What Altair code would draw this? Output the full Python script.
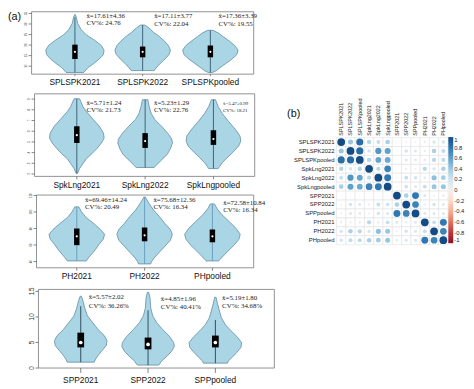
import json
import altair as alt
import pandas as pd

# ---------------- data ----------------
# Panel 1: spikelets per spike
P1_NAMES = ["SPLSPK2021", "SPLSPK2022", "SPLSPKpooled"]
P1_Y = [
    [34.6, 33.3, 30.3, 27.4, 24.8, 22.3, 19.8, 17.6, 15.5, 13.4, 11.3, 9.2, 7.0],
    [29.5, 28.2, 26.1, 24.0, 21.9, 19.8, 17.6, 15.5, 13.4, 11.3, 9.2, 7.9],
    [27.0, 25.7, 24.0, 21.9, 19.8, 17.6, 15.5, 13.4, 11.3, 9.2, 7.9, 7.0],
]
P1_W = [
    [0.0, 0.02, 0.04, 0.09, 0.17, 0.29, 0.39, 0.43, 0.42, 0.36, 0.28, 0.19, 0.13],
    [0.03, 0.09, 0.16, 0.25, 0.32, 0.38, 0.41, 0.39, 0.33, 0.26, 0.20, 0.17],
    [0.04, 0.12, 0.19, 0.28, 0.36, 0.41, 0.39, 0.32, 0.23, 0.14, 0.09, 0.03],
]
P1_Q1 = [13.4, 14.2, 14.2]
P1_Q3 = [20.2, 19.3, 19.8]
P1_MED = [16.8, 16.8, 16.8]
P1_LO = [7.0, 7.9, 7.0]
P1_HI = [33.3, 29.5, 27.0]
P1_MEAN = ["x\u0304=17.61\u00b14.36", "x\u0304=17.11\u00b13.77", "x\u0304=17.36\u00b13.39"]
P1_CV = ["CV%: 24.76", "CV%: 22.04", "CV%: 19.55"]
P1_YTICKS = [10, 15, 20, 25, 30, 35]

# Panel 2: spike length
P2_NAMES = ["SpkLng2021", "SpkLng2022", "SpkLngpooled"]
P2_Y = [
    [9.03, 8.75, 8.29, 7.83, 7.10, 6.46, 5.82, 5.36, 4.90, 4.35, 3.89, 3.43, 2.97, 2.51, 2.06],
    [8.94, 8.29, 7.65, 7.10, 6.46, 5.82, 5.27, 4.90, 4.35, 3.80, 3.25, 2.79, 2.61],
    [8.94, 8.29, 7.65, 6.92, 6.18, 5.54, 5.08, 4.62, 4.07, 3.52, 3.06, 2.70, 2.51],
]
P2_W = [
    [0.04, 0.06, 0.09, 0.14, 0.24, 0.33, 0.39, 0.40, 0.36, 0.29, 0.22, 0.14, 0.09, 0.04, 0.01],
    [0.04, 0.06, 0.09, 0.14, 0.24, 0.33, 0.39, 0.40, 0.37, 0.32, 0.23, 0.16, 0.13],
    [0.03, 0.07, 0.13, 0.22, 0.32, 0.39, 0.40, 0.37, 0.29, 0.20, 0.13, 0.09, 0.07],
]
P2_Q1 = [4.90, 4.44, 4.72]
P2_Q3 = [6.46, 5.82, 6.09]
P2_MED = [5.63, 5.08, 5.27]
P2_LO = [2.06, 2.61, 2.51]
P2_HI = [9.03, 8.94, 8.94]
P2_MEAN = ["x\u0304=5.71\u00b11.24", "x\u0304=5.23\u00b11.29", "x\u0304=5.47\u00b10.99"]
P2_CV = ["CV%: 21.73", "CV%: 22.76", "CV%: 18.21"]
P2_YTICKS = [2, 3, 4, 5, 6, 7, 8, 9]

# Panel 3: plant height
P3_NAMES = ["PH2021", "PH2022", "PHpooled"]
P3_Y = [
    [106.2, 100.2, 93.1, 86.0, 78.8, 72.9, 66.9, 61.0, 55.0, 49.0, 44.3, 40.7],
    [118.1, 111.0, 102.6, 94.3, 86.0, 78.8, 72.9, 65.7, 58.6, 51.4, 44.3, 39.5, 37.1],
    [109.8, 103.8, 96.7, 88.3, 80.0, 72.9, 66.9, 59.8, 52.6, 46.7, 43.1, 40.7],
]
P3_W = [
    [0.03, 0.07, 0.14, 0.25, 0.35, 0.41, 0.39, 0.33, 0.28, 0.22, 0.17, 0.14],
    [0.01, 0.06, 0.13, 0.22, 0.30, 0.38, 0.41, 0.38, 0.30, 0.22, 0.14, 0.10, 0.09],
    [0.03, 0.07, 0.14, 0.25, 0.35, 0.41, 0.39, 0.32, 0.23, 0.16, 0.12, 0.09],
]
P3_Q1 = [59.8, 64.5, 63.3]
P3_Q3 = [80.0, 81.2, 78.8]
P3_MED = [70.5, 71.7, 70.5]
P3_LO = [40.7, 37.1, 40.7]
P3_HI = [106.2, 118.1, 109.8]
P3_MEAN = ["x\u0304=69.46\u00b114.24", "x\u0304=75.68\u00b112.36", "x\u0304=72.58\u00b110.84"]
P3_CV = ["CV%: 20.49", "CV%: 16.34", "CV%: 16.34"]
P3_YTICKS = [40, 60, 80, 100, 120]

# Panel 4: spikes per plant
P4_NAMES = ["SPP2021", "SPP2022", "SPPpooled"]
P4_Y = [
    [14.04, 13.27, 11.73, 10.19, 8.85, 7.50, 6.35, 5.38, 4.42, 3.46, 2.50, 1.73, 1.15],
    [14.81, 13.65, 11.73, 10.19, 8.85, 7.50, 6.15, 5.00, 4.23, 3.27, 2.31, 1.35, 0.58],
    [13.85, 12.69, 11.15, 9.81, 8.46, 7.31, 6.15, 5.00, 4.04, 3.08, 2.12, 1.35, 0.96],
]
P4_W = [
    [0.01, 0.03, 0.06, 0.10, 0.18, 0.26, 0.35, 0.39, 0.38, 0.32, 0.26, 0.22, 0.20],
    [0.01, 0.03, 0.04, 0.07, 0.13, 0.22, 0.32, 0.38, 0.39, 0.35, 0.28, 0.20, 0.16],
    [0.01, 0.03, 0.06, 0.09, 0.15, 0.23, 0.32, 0.39, 0.38, 0.32, 0.25, 0.19, 0.18],
]
P4_Q1 = [4.04, 3.65, 4.04]
P4_Q3 = [6.92, 5.96, 6.35]
P4_MED = [5.0, 4.62, 5.0]
P4_LO = [1.15, 0.58, 0.96]
P4_HI = [12.1, 11.3, 9.4]
P4_MEAN = ["x\u0304=5.57\u00b12.02", "x\u0304=4.85\u00b11.96", "x\u0304=5.19\u00b11.80"]
P4_CV = ["CV%: 36.26%", "CV%: 40.41%", "CV%: 34.68%"]
P4_YTICKS = [0, 5, 10, 15]

# Correlation matrix (b)
CORR_NAMES = ["SPLSPK2021", "SPLSPK2022", "SPLSPKpooled", "SpkLng2021", "SpkLng2022",
              "SpkLngpooled", "SPP2021", "SPP2022", "SPPpooled", "PH2021", "PH2022", "PHpooled"]
R_SPLSPK2021 = [1.00, 0.42, 0.85, 0.32, 0.25, 0.36, 0.02, 0.05, 0.05, 0.08, 0.18, 0.20]
R_SPLSPK2022 = [0.42, 1.00, 0.86, 0.20, 0.65, 0.60, 0.02, 0.20, 0.15, 0.08, 0.35, 0.27]
R_SPLSPKPOOL = [0.85, 0.86, 1.00, 0.32, 0.58, 0.56, 0.03, 0.15, 0.12, 0.10, 0.30, 0.28]
R_SPKLNG2021 = [0.32, 0.20, 0.32, 1.00, 0.30, 0.75, 0.02, 0.08, 0.05, 0.30, 0.18, 0.35]
R_SPKLNG2022 = [0.25, 0.65, 0.58, 0.30, 1.00, 0.80, 0.03, 0.25, 0.20, 0.10, 0.45, 0.38]
R_SPKLNGPOOL = [0.36, 0.60, 0.56, 0.75, 0.80, 1.00, 0.03, 0.22, 0.15, 0.25, 0.42, 0.42]
R_SPP2021 = [0.02, 0.02, 0.03, 0.02, 0.03, 0.03, 1.00, 0.35, 0.80, 0.15, 0.05, 0.10]
R_SPP2022 = [0.05, 0.20, 0.15, 0.08, 0.25, 0.22, 0.35, 1.00, 0.75, 0.08, 0.20, 0.15]
R_SPPPOOL = [0.05, 0.15, 0.12, 0.05, 0.20, 0.15, 0.80, 0.75, 1.00, 0.15, 0.15, 0.15]
R_PH2021 = [0.08, 0.08, 0.10, 0.30, 0.10, 0.25, 0.15, 0.08, 0.15, 1.00, 0.25, 0.80]
R_PH2022 = [0.18, 0.35, 0.30, 0.18, 0.45, 0.42, 0.05, 0.20, 0.15, 0.25, 1.00, 0.75]
R_PHPOOL = [0.20, 0.27, 0.28, 0.35, 0.38, 0.42, 0.10, 0.15, 0.15, 0.80, 0.75, 1.00]
CORR_ROWS = [R_SPLSPK2021, R_SPLSPK2022, R_SPLSPKPOOL, R_SPKLNG2021, R_SPKLNG2022, R_SPKLNGPOOL,
             R_SPP2021, R_SPP2022, R_SPPPOOL, R_PH2021, R_PH2022, R_PHPOOL]
LEGEND_VALUES = [1, 0.8, 0.6, 0.4, 0.2, 0, -0.2, -0.4, -0.6, -0.8, -1]

# ---------------- layout / style ----------------
W, H = 466, 381
FILL = "#aad5e5"
EDGE = "#5f8ea2"
SANS = "Liberation Sans"
SERIF = "Liberation Serif"

LAYOUT = {
    1: dict(xdom=[0.36, 3.64], xrng=[24, 250], ydom=[6.2, 35.8], yrng=[64, 0.5],
            dx=[0.17, 0.17, 0.12], y1=[34.0, 33.6, 33.6], y2=[30.3, 29.9, 29.9],
            fs=[7, 7, 7], ylab=3, xtick=2, xpad=2, bw=0.04, med=5, wc="#3c6478"),
    2: dict(xdom=[0.381, 3.604], xrng=[27, 251], ydom=[1.78, 9.49], yrng=[168, 84],
            dx=[0.14, 0.13, 0.14], y1=[8.66, 8.66, 8.66], y2=[7.93, 7.93, 8.02],
            fs=[7, 7, 5], ylab=3, xtick=3, xpad=2, bw=0.04, med=5, wc="#3c6478"),
    3: dict(xdom=[0.406, 3.609], xrng=[29, 250], ydom=[32.4, 120.5], yrng=[261, 187],
            dx=[0.12, 0.13, 0.16], y1=[114.5, 114.5, 111.0], y2=[106.2, 106.2, 102.6],
            fs=[7, 7, 7], ylab=3, xtick=3, xpad=1, bw=0.04, med=5, wc="#6a9fbf"),
    4: dict(xdom=[0.372, 3.876], xrng=[31, 271], ydom=[0, 15.38], yrng=[363, 283],
            dx=[0.12, 0.19, 0.10], y1=[13.85, 13.5, 13.65], y2=[12.1, 11.9, 12.1],
            fs=[7, 7, 7], ylab=7, xtick=5, xpad=3, bw=0.05, med=14, wc="#2f4f5f"),
}
YTICK_LEN = 3


def violin_panel(k, names, ys, ws, q1, q3, med, lo, hi, means, cvs, yticks):
    L = LAYOUT[k]
    xs = alt.Scale(domain=L["xdom"], range=L["xrng"], nice=False, zero=False)
    yscale = alt.Scale(domain=L["ydom"], range=L["yrng"], nice=False, zero=False)
    pxu_x = (L["xrng"][1] - L["xrng"][0]) / (L["xdom"][1] - L["xdom"][0])
    pxu_y = (L["yrng"][0] - L["yrng"][1]) / (L["ydom"][1] - L["ydom"][0])

    def X(f):
        return alt.X(f, scale=xs, axis=None)

    def Y(f):
        return alt.Y(f, scale=yscale, axis=None)

    vrows = []
    for i, (yy, ww) in enumerate(zip(ys, ws)):
        for y, w in zip(yy, ww):
            vrows.append({"vid": i, "y": y, "xl": i + 1 - w, "xr": i + 1 + w})
    vdf = pd.DataFrame(vrows)

    sdf = pd.DataFrame({
        "xc": [1, 2, 3], "q1": q1, "q3": q3, "med": med, "lo": lo, "hi": hi,
        "bl": [c - L["bw"] for c in (1, 2, 3)], "br": [c + L["bw"] for c in (1, 2, 3)],
        "name": names,
        "yb": [L["ydom"][0]] * 3,
        "yt": [L["ydom"][0] - L["xtick"] / pxu_y] * 3,
    })
    tdf = pd.DataFrame({
        "tx": [c + d for c, d in zip((1, 2, 3), L["dx"])],
        "y1": L["y1"], "y2": L["y2"], "t1": means, "t2": cvs, "fs": L["fs"],
    })
    fdf = pd.DataFrame({"x0": [L["xdom"][0]], "x1": [L["xdom"][1]],
                        "y0": [L["ydom"][0]], "y1": [L["ydom"][1]]})
    ydf = pd.DataFrame({"v": yticks, "lab": [str(v) for v in yticks],
                        "xa": [L["xdom"][0]] * len(yticks),
                        "xb": [L["xdom"][0] - YTICK_LEN / pxu_x] * len(yticks)})

    frame = alt.Chart(fdf).mark_rect(fillOpacity=0, stroke="#858585", strokeWidth=0.9).encode(
        x=X("x0:Q"), x2="x1:Q", y=Y("y0:Q"), y2="y1:Q")
    violins = alt.Chart(vdf).mark_area(orient="horizontal", fill=FILL, stroke=EDGE, strokeWidth=0.8,
                                       opacity=1).encode(
        y=Y("y:Q"), x=X("xl:Q"), x2="xr:Q", detail="vid:N")
    whisk = alt.Chart(sdf).mark_rule(color=L["wc"], strokeWidth=1).encode(
        x=X("xc:Q"), y=Y("lo:Q"), y2="hi:Q")
    boxes = alt.Chart(sdf).mark_rect(color="#000000").encode(
        x=X("bl:Q"), x2="br:Q", y=Y("q1:Q"), y2="q3:Q")
    meds = alt.Chart(sdf).mark_circle(color="#ffffff", size=L["med"], opacity=1).encode(
        x=X("xc:Q"), y=Y("med:Q"))
    t1 = alt.Chart(tdf).mark_text(align="left", baseline="middle", font=SERIF, color="#222").encode(
        x=X("tx:Q"), y=Y("y1:Q"), text="t1:N", size=alt.Size("fs:Q", scale=None))
    t2 = alt.Chart(tdf).mark_text(align="left", baseline="middle", font=SERIF, color="#222").encode(
        x=X("tx:Q"), y=Y("y2:Q"), text="t2:N", size=alt.Size("fs:Q", scale=None))
    # x axis: ticks and category labels
    xt = alt.Chart(sdf).mark_rule(color="#666", strokeWidth=0.8).encode(
        x=X("xc:Q"), y=Y("yb:Q"), y2="yt:Q")
    xl = alt.Chart(sdf).mark_text(align="center", baseline="top", font=SANS, fontSize=8.5,
                                  color="#111", dy=L["xtick"] + L["xpad"]).encode(
        x=X("xc:Q"), y=Y("yb:Q"), text="name:N")
    # y axis: ticks and labels
    yt = alt.Chart(ydf).mark_rule(color="#666", strokeWidth=0.8).encode(
        x=X("xa:Q"), x2="xb:Q", y=Y("v:Q"))
    yl = alt.Chart(ydf).mark_text(angle=270, align="center", baseline="bottom", font=SANS,
                                  fontSize=L["ylab"], color="#333", dy=-(YTICK_LEN + 1)).encode(
        x=X("xa:Q"), y=Y("v:Q"), text="lab:N")
    return alt.layer(frame, violins, whisk, boxes, meds, t1, t2, xt, xl, yt, yl)


p1 = violin_panel(1, P1_NAMES, P1_Y, P1_W, P1_Q1, P1_Q3, P1_MED, P1_LO, P1_HI, P1_MEAN, P1_CV, P1_YTICKS)
p2 = violin_panel(2, P2_NAMES, P2_Y, P2_W, P2_Q1, P2_Q3, P2_MED, P2_LO, P2_HI, P2_MEAN, P2_CV, P2_YTICKS)
p3 = violin_panel(3, P3_NAMES, P3_Y, P3_W, P3_Q1, P3_Q3, P3_MED, P3_LO, P3_HI, P3_MEAN, P3_CV, P3_YTICKS)
p4 = violin_panel(4, P4_NAMES, P4_Y, P4_W, P4_Q1, P4_Q3, P4_MED, P4_LO, P4_HI, P4_MEAN, P4_CV, P4_YTICKS)

# ---------------- correlation plot ----------------
crows = []
for rn, vals in zip(CORR_NAMES, CORR_ROWS):
    for cn, v in zip(CORR_NAMES, vals):
        crows.append({"row": rn, "col": cn, "r": v, "absr": abs(v)})
cdf = pd.DataFrame(crows)
ldf = pd.DataFrame({"name": CORR_NAMES, "first_row": [CORR_NAMES[0]] * 12,
                    "first_col": [CORR_NAMES[0]] * 12})

cx = alt.Scale(type="band", domain=CORR_NAMES, range=[334.3, 447.7], paddingInner=0, paddingOuter=0)
cy = alt.Scale(type="band", domain=CORR_NAMES, range=[128.5, 237.5], paddingInner=0, paddingOuter=0)

cells = alt.Chart(cdf).mark_rect(fill="#ffffff", stroke="#e2e2e2", strokeWidth=0.6).encode(
    x=alt.X("col:N", scale=cx, axis=None), y=alt.Y("row:N", scale=cy, axis=None))
circles = alt.Chart(cdf).mark_circle(opacity=1).encode(
    x=alt.X("col:N", scale=cx, axis=None),
    y=alt.Y("row:N", scale=cy, axis=None),
    size=alt.Size("absr:Q", scale=alt.Scale(domain=[0, 1], range=[0, 62]), legend=None),
    color=alt.Color("r:Q", scale=alt.Scale(scheme="redblue", domain=[-1, 1]),
                    legend=alt.Legend(orient="none", legendX=448, legendY=128, direction="vertical",
                                      gradientLength=108, gradientThickness=5, title=None,
                                      values=LEGEND_VALUES,
                                      labelExpr="replace(format(datum.value, '.1~f'), '\u2212', '-')",
                                      labelFontSize=6, labelFont=SANS, labelColor="#222",
                                      labelOverlap=False, gradientStrokeWidth=0, labelOffset=1)),
)
col_labels = alt.Chart(ldf).mark_text(angle=270, align="left", baseline="middle", font=SANS,
                                      fontSize=5.5, color="#222", dx=6.5).encode(
    x=alt.X("name:N", scale=cx, axis=None), y=alt.Y("first_row:N", scale=cy, axis=None), text="name:N")
row_labels = alt.Chart(ldf).mark_text(align="right", baseline="middle", font=SANS,
                                      fontSize=6, color="#222", dx=-6.7).encode(
    x=alt.X("first_col:N", scale=cx, axis=None), y=alt.Y("name:N", scale=cy, axis=None), text="name:N")
corr = alt.layer(cells, circles, col_labels, row_labels)

tags = alt.Chart(pd.DataFrame({"t": ["(a)"]})).mark_text(
    align="left", baseline="middle", font=SANS, fontSize=11, color="#111").encode(
    text="t:N", x=alt.value(0), y=alt.value(6))
tagb = alt.Chart(pd.DataFrame({"t": ["(b)"]})).mark_text(
    align="left", baseline="middle", font=SANS, fontSize=11, color="#111").encode(
    text="t:N", x=alt.value(284), y=alt.value(105))

chart = alt.layer(p1, p2, p3, p4, corr, tags, tagb).resolve_scale(
    x="independent", y="independent", color="independent", size="independent"
).properties(width=W, height=H, padding=0, autosize=alt.AutoSizeParams(type="none")).configure_view(
    stroke=None)

chart.save("out.html", embed_options={"renderer": "svg", "actions": False})
